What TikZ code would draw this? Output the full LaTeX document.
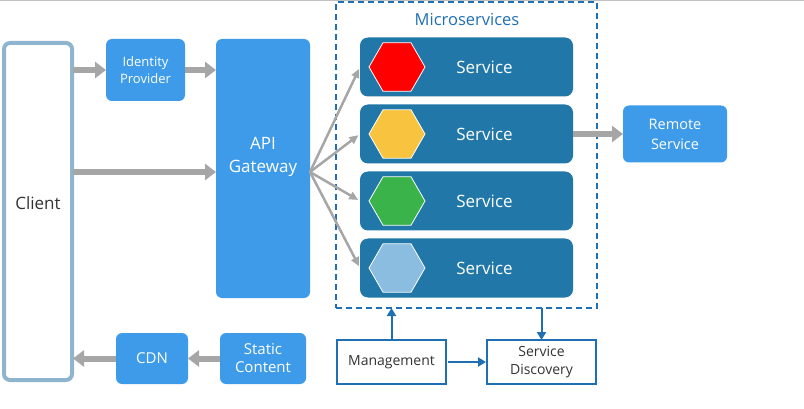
\documentclass[tikz,border=0pt]{standalone}
\usepackage{fontspec}
\setmainfont{Open Sans}
\usepackage{tikz}
\usetikzlibrary{arrows.meta, positioning, shapes.geometric}
\usepackage{xcolor}

\definecolor{boxblue}{RGB}{62,155,233}
\definecolor{svcblue}{RGB}{33,120,168}
\definecolor{linkblue}{RGB}{31,111,181}
\definecolor{clientedge}{RGB}{143,180,206}
\definecolor{arrowgray}{RGB}{166,166,166}
\definecolor{hexred}{RGB}{255,0,0}
\definecolor{hexyellow}{RGB}{248,196,64}
\definecolor{hexgreen}{RGB}{58,180,74}
\definecolor{hexblue}{RGB}{139,189,224}
\definecolor{textgray}{RGB}{51,51,51}

\tikzset{
    bluebox/.style={fill=boxblue, rounded corners=6pt, text=white, align=center, inner sep=0pt, outer sep=0pt},
    svcbox/.style={fill=svcblue, rounded corners=8pt, minimum width=213pt, minimum height=59pt, inner sep=0pt, outer sep=0pt},
    svctext/.style={text=white, font=\fontsize{17}{20}\selectfont, xshift=18pt},
    hexa/.style={regular polygon, regular polygon sides=6, minimum size=56pt, inner sep=0pt, draw=white, line width=0.8pt},
    whitebox/.style={draw=linkblue, line width=2pt, fill=white, text=textgray, align=center, inner sep=0pt, outer sep=0pt,
        minimum width=109pt, minimum height=44pt},
    bigarrow/.style={draw=arrowgray, line width=6pt, -{Triangle[length=11pt, width=16pt]}},
    fanarrow/.style={draw=arrowgray, line width=2.5pt, -{Triangle[length=9pt, width=8pt]}, shorten >=2pt},
    bluearrow/.style={draw=linkblue, line width=2pt, -{Triangle[length=8pt, width=9pt]}}
}

\begin{document}
\begin{tikzpicture}[x=1pt, y=-1pt, >=Stealth]
    \useasboundingbox (0,0) rectangle (804,409);
    \draw[arrowgray!70, line width=1pt] (0,0.5) -- (804,0.5);

    % left column
    \node (client) [draw=clientedge, line width=4pt, rounded corners=6pt, minimum width=68pt, minimum height=337pt,
        inner sep=0pt, outer sep=0pt, label={[text=textgray, font=\fontsize{17}{20}\selectfont, yshift=8pt]center:Client}] at (38,211.5) {};
    \node (idp) [bluebox, minimum width=79pt, minimum height=62pt, font=\fontsize{13}{17}\selectfont] at (145.5,70) {Identity\\Provider};
    \node (gw) [bluebox, minimum width=94pt, minimum height=259pt] at (263,168.5) {};
    \node (gwtext) [text=white, align=center, font=\fontsize{17}{23}\selectfont] at (263,157) {API\\Gateway};
    \node (cdn) [bluebox, minimum width=72pt, minimum height=51pt, font=\fontsize{15}{18}\selectfont] at (152,358.5) {CDN};
    \node (static) [bluebox, minimum width=86pt, minimum height=51pt, font=\fontsize{15}{18}\selectfont] at (263,358.5) {Static\\Content};

    % microservices
    \node (micro) [draw=linkblue, line width=2pt, dashed, dash pattern=on 6pt off 4pt, minimum width=261pt, minimum height=306pt,
        inner sep=0pt, outer sep=0pt] at (466.5,155) {};
    \node (microtitle) [text=linkblue, font=\fontsize{16.5}{20}\selectfont] at (467,20) {Microservices};

    \node (s1) [svcbox, label={[svctext]center:Service}] at (466.5,67) {};
    \node (s2) [svcbox, label={[svctext]center:Service}, below=8pt of s1] {};
    \node (s3) [svcbox, label={[svctext]center:Service}, below=8pt of s2] {};
    \node (s4) [svcbox, label={[svctext]center:Service}, below=8pt of s3] {};

    \node (hex1) [hexa, fill=hexred] at ([xshift=37pt]s1.west) {};
    \node (hex2) [hexa, fill=hexyellow] at ([xshift=37pt]s2.west) {};
    \node (hex3) [hexa, fill=hexgreen] at ([xshift=37pt]s3.west) {};
    \node (hex4) [hexa, fill=hexblue] at ([xshift=37pt]s4.west) {};

    \node (remote) [bluebox, minimum width=104pt, minimum height=57pt, font=\fontsize{14.5}{20}\selectfont] at (675,134) {Remote\\Service};

    \node (mgmt) [whitebox, font=\fontsize{14}{18}\selectfont] at (391.5,362) {Management};
    \node (disc) [whitebox, font=\fontsize{14}{18}\selectfont] at (541.5,362) {Service\\Discovery};

    % connectors
    \coordinate (gwin) at ([yshift=-3.5pt]gw.west);
    \coordinate (fan) at ([yshift=-3.5pt]gw.east);

    \draw[bigarrow, shorten <=1pt] (client.east |- idp.west) -- (idp.west);
    \draw[bigarrow] (idp.east) -- (gw.west |- idp.east);
    \draw[bigarrow, shorten <=1pt] (client.east |- gwin) -- (gwin);
    \draw[bigarrow] (static.west) -- (cdn.east);
    \draw[bigarrow, shorten >=1pt] (cdn.west) -- (client.east |- cdn.west);
    \draw[bigarrow] (s2.east) -- (remote.west);

    \draw[fanarrow] (fan) -- (s1.west);
    \draw[fanarrow] (fan) -- (s2.west);
    \draw[fanarrow] (fan) -- (s3.west);
    \draw[fanarrow] (fan) -- (s4.west);

    \draw[bluearrow] (mgmt.north) -- (micro.south -| mgmt.north);
    \draw[bluearrow] (micro.south -| disc.north) -- (disc.north);
    \draw[bluearrow, shorten <=2pt, shorten >=1pt] (mgmt.east) -- (disc.west);
\end{tikzpicture}
\end{document}
